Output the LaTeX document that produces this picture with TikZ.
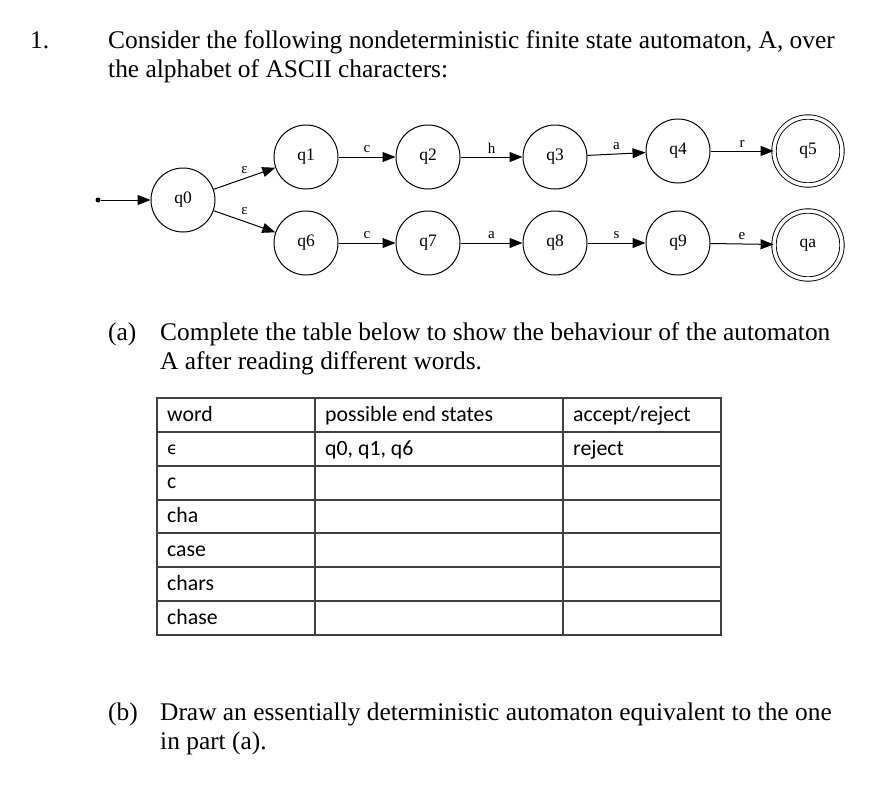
\documentclass[tikz,border=0pt]{standalone}
\usepackage{fontspec}
\setmainfont{Liberation Serif}
\newfontfamily\tabfont{Carlito}
\newfontfamily\symfont{DejaVu Sans}
\usetikzlibrary{positioning,arrows.meta}

\begin{document}
\begin{tikzpicture}[x=1pt,y=-1pt,
  st/.style={draw,circle,line width=1pt,minimum size=64pt,inner sep=0pt,font=\fontsize{17.5}{17.5}\selectfont},
  acc/.style={st,minimum size=68pt,double,double distance=3.5pt,line width=0.9pt},
  tr/.style={-{Triangle[length=13pt,width=10pt]},line width=1pt},
  el/.style={font=\fontsize{15}{15}\selectfont,inner sep=3.5pt},
  txt/.style={anchor=base west,inner sep=0pt,font=\fontsize{25.4}{25.4}\selectfont},
  cell/.style={anchor=base west,inner sep=0pt,font=\tabfont\fontsize{21.8}{21.8}\selectfont},
  grid/.style={draw=black!75,line width=1.2pt}]
  \useasboundingbox (0,0) rectangle (884,785);

  \node[txt] (num) at (30,48) {1.};
  \node[txt] (intro1) at (108,48) {Consider the following nondeterministic finite state automaton, A, over};
  \node[txt] (intro2) at (108,77) {the alphabet of ASCII characters:};

  \node[circle,fill,inner sep=0pt,minimum size=5pt] (start) at (98,200) {};
  \node[st] (q0) at (183,200) {q0};
  \node[st] (q1) at (306,157) {q1};
  \node[st] (q2) at (428,157) {q2};
  \node[st] (q3) at (555,157) {q3};
  \node[st] (q4) at (678,151) {q4};
  \node[acc] (q5) at (808,151) {q5};
  \node[st] (q6) at (306,243) {q6};
  \node[st] (q7) at (428,243) {q7};
  \node[st] (q8) at (555,243) {q8};
  \node[st] (q9) at (678,243) {q9};
  \node[acc] (qa) at (808,245) {qa};

  \draw[tr] (start) -- (q0);
  \draw[tr] (q0) -- node[el,above=1pt]{ε} (q1);
  \draw[tr] (q0) -- node[el,above=3pt]{ε} (q6);
  \draw[tr] (q1) -- node[el,above]{c} (q2);
  \draw[tr] (q2) -- node[el,above]{h} (q3);
  \draw[tr] (q3) -- node[el,above]{a} (q4);
  \draw[tr] (q4) -- node[el,above]{r} (q5);
  \draw[tr] (q6) -- node[el,above]{c} (q7);
  \draw[tr] (q7) -- node[el,above]{a} (q8);
  \draw[tr] (q8) -- node[el,above]{s} (q9);
  \draw[tr] (q9) -- node[el,above]{e} (qa);

  \node[txt] (parta) at (108,340) {(a)};
  \node[txt] (partatext1) at (160,340) {Complete the table below to show the behaviour of the automaton};
  \node[txt] (partatext2) at (160,369) {A after reading different words.};

  \draw[grid] (157,398) rectangle (721,635);
  \foreach \y in {432,466,500,533,567,601} \draw[grid] (157,\y) -- (721,\y);
  \foreach \x in {315,563} \draw[grid] (\x,398) -- (\x,635);
  \foreach \w [count=\i] in {word,{\symfont\fontsize{17}{17}\selectfont ϵ},c,cha,case,chars,chase}
    \node[cell] (word\i) at (167,{421+33.86*(\i-1)}) {\w};
  \node[cell] (endhead) at (325,421) {possible end states};
  \node[cell] (endeps) at (325,455) {q0, q1, q6};
  \node[cell] (acchead) at (573,421) {accept/reject};
  \node[cell] (acceps) at (573,455) {reject};

  \node[txt] (partb) at (108,720) {(b)};
  \node[txt] (partbtext1) at (160,720) {Draw an essentially deterministic automaton equivalent to the one};
  \node[txt] (partbtext2) at (160,749) {in part (a).};
\end{tikzpicture}
\end{document}
